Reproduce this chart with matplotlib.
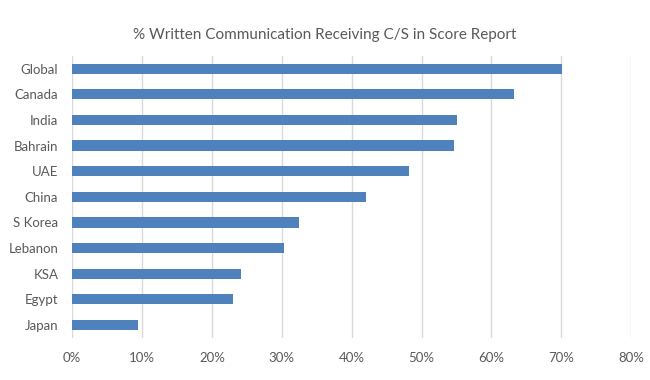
import matplotlib
matplotlib.use('Agg')
import matplotlib.pyplot as plt
from matplotlib.ticker import FuncFormatter

# data
countries = ['Global', 'Canada', 'India', 'Bahrain', 'UAE', 'China',
             'S Korea', 'Lebanon', 'KSA', 'Egypt', 'Japan']
pct = [70.1, 63.2, 55.1, 54.6, 48.2, 42.0, 32.4, 30.3, 24.2, 23.0, 9.4]
xticks = [0, 10, 20, 30, 40, 50, 60, 70, 80]

plt.rcParams['font.family'] = ['Lato', 'DejaVu Sans']
txt = '#595959'

fig = plt.figure(figsize=(6.5, 3.8), dpi=100)
ax = fig.add_axes([0.111, 0.111, 0.86, 0.742])

y = list(range(len(countries)))
ax.barh(y, pct, height=0.4, color='#4F81BD', zorder=3)
ax.set_yticks(y)
ax.set_yticklabels(countries)
ax.set_ylim(len(countries) - 0.5, -0.5)

ax.set_xlim(0, 80)
ax.set_xticks(xticks)
ax.xaxis.set_major_formatter(FuncFormatter(lambda v, p: '%d%%' % v))
ax.grid(axis='x', color='#D9D9D9', linewidth=1, zorder=0)

for s in ax.spines.values():
    s.set_visible(False)
ax.tick_params(length=0, colors=txt, labelsize=9.5)
ax.tick_params(axis='y', pad=10)
ax.tick_params(axis='x', pad=10)

fig.text(0.5, 0.908, '% Written Communication Receiving C/S in Score Report',
         ha='center', va='center', fontsize=11, color=txt)

fig.savefig('out.png', dpi=100)
